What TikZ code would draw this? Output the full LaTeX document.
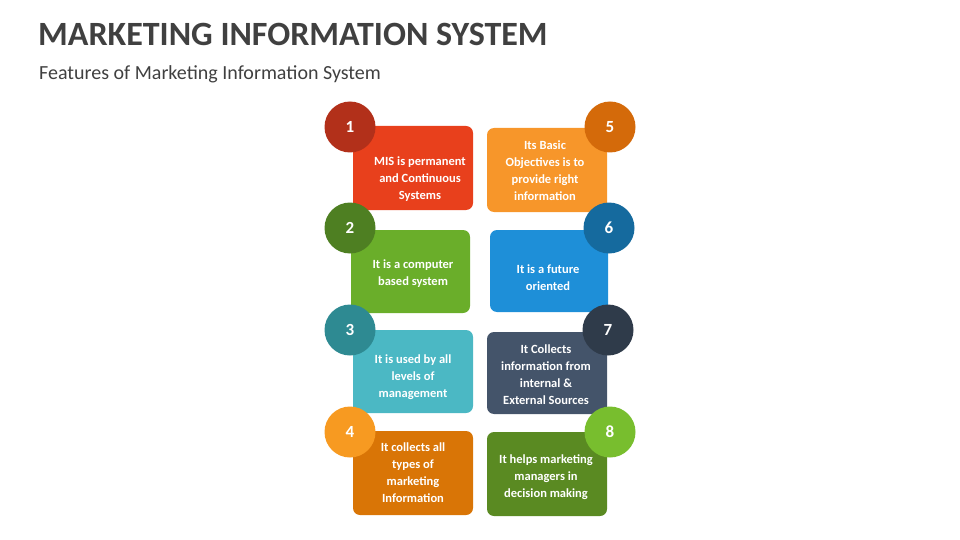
\documentclass[tikz,border=0pt]{standalone}
\usepackage{fontspec}
\setmainfont{Carlito}
\begin{document}
\begin{tikzpicture}[x=1pt,y=-1pt,
 box/.style={rounded corners=7pt,inner sep=0pt},
 circ/.style={circle,minimum size=51pt,inner sep=0pt,text=white,font=\bfseries\fontsize{17}{17}\selectfont},
 txt/.style={text=white,align=center,font=\bfseries\fontsize{12.5}{17}\selectfont}]
\useasboundingbox (0,0) rectangle (960,540);
\node[anchor=base west,inner sep=0,text={rgb,255:red,64;green,64;blue,64},font=\bfseries\fontsize{34}{34}\selectfont] (title) at (38,46) {MARKETING INFORMATION SYSTEM};
\node[anchor=base west,inner sep=0,text={rgb,255:red,64;green,64;blue,64},font=\fontsize{20}{20}\selectfont] (sub) at (39,80) {Features of Marketing Information System};
% args: x1,y1,x2,y2,boxcol,circle cx,cy,circlecol,num,text center, text
\def\item#1#2#3#4#5#6#7#8#9{}
\newcommand\feat[9]{%
 \definecolor{bc#9}{HTML}{#5}\definecolor{cc#9}{HTML}{#8}%
 \fill[box,fill=bc#9] (#1,#2) rectangle (#3,#4);
 \node[circ,fill=cc#9] (c#9) at (#6,#7) {#9};}
\feat{353}{126}{473}{210}{E8401C}{350}{127}{B2301A}{1}
\node[txt] (t1) at (420,179) {MIS is permanent\\and Continuous\\Systems};
\feat{351}{230}{470}{313}{6AAE2A}{350}{228}{4E7F22}{2}
\node[txt] (t2) at (413,274) {It is a computer\\based system};
\feat{353}{330}{473}{413}{4BB8C4}{350}{330}{2E8A92}{3}
\node[txt] (t3) at (413,377) {It is used by all\\levels of\\management};
\feat{353}{431}{473}{515}{D97506}{350}{432}{F79A21}{4}
\node[txt] (t4) at (413,473) {It collects all\\types of\\marketing\\Information};
\feat{487}{128}{607}{212}{F7962A}{610}{127}{D46A0A}{5}
\node[txt] (t5) at (545,171) {Its Basic\\Objectives is to\\provide right\\information};
\feat{490}{230}{608}{312}{1E8FD8}{609}{228}{156A9E}{6}
\node[txt] (t6) at (548,278) {It is a future\\oriented};
\feat{487}{332}{607}{414}{44546A}{608}{330}{2F3B4A}{7}
\node[txt] (t7) at (546,375) {It Collects\\information from\\internal \&\\External Sources};
\feat{487}{432}{607}{516}{5A8A22}{610}{432}{78BE2E}{8}
\node[txt] (t8) at (546,477) {It helps marketing\\managers in\\decision making};
\end{tikzpicture}
\end{document}
